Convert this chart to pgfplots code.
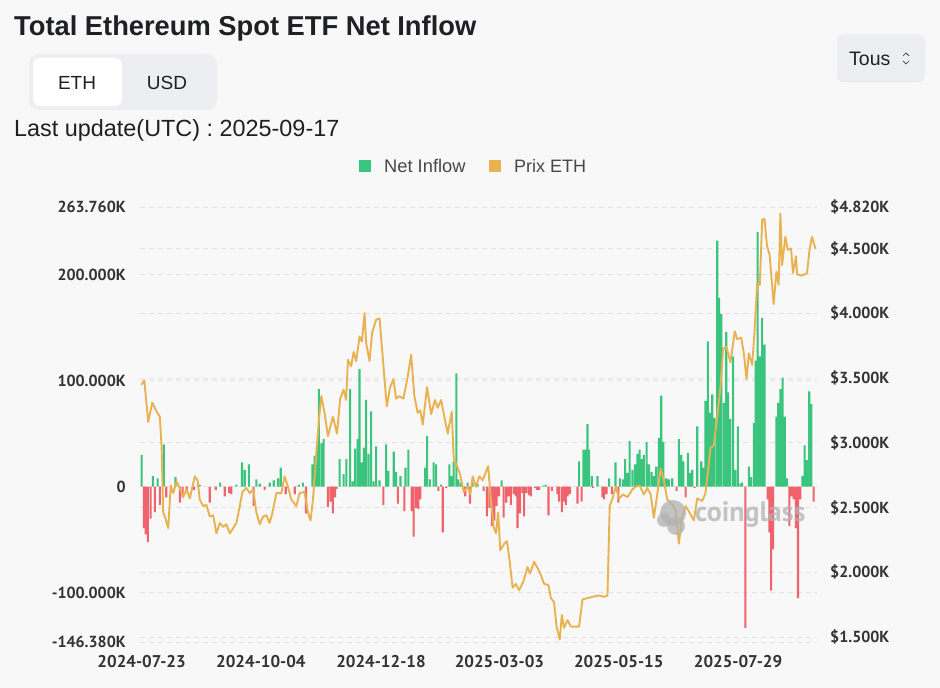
\documentclass[border=0pt]{standalone}
\usepackage{fontspec}
\setmainfont{Liberation Sans}
\newfontfamily\tickfont{PT Sans}
\usepackage{pgfplots}
\pgfplotsset{compat=1.18}
\definecolor{bgcol}{RGB}{248,248,248}
\definecolor{upcol}{RGB}{58,196,125}
\definecolor{downcol}{RGB}{240,98,108}
\definecolor{pricecol}{RGB}{232,178,80}
\definecolor{gridcol}{RGB}{226,226,226}
\definecolor{labcol}{RGB}{51,51,51}
\definecolor{btncol}{RGB}{236,238,241}
\definecolor{txtcol}{RGB}{30,32,36}

\begin{document}
\begin{tikzpicture}[x=1pt,y=1pt]
\fill[bgcol] (0,0) rectangle (940,688);

% header
\node[anchor=base west,inner sep=0pt,text=txtcol] at (14,652) {\fontsize{27.3}{27.3}\selectfont\bfseries Total Ethereum Spot ETF Net Inflow};
\fill[btncol, rounded corners=10pt] (29,578) rectangle (217,634);
\fill[white, rounded corners=7pt] (33,582) rectangle (122,630);
\node[anchor=base,inner sep=0pt,text=txtcol] at (77,598) {\fontsize{19}{19}\selectfont ETH};
\node[anchor=base,inner sep=0pt,text=txtcol] at (167,598) {\fontsize{19}{19}\selectfont USD};
\fill[black!10, rounded corners=7pt] (837,606) rectangle (924.5,653);
\fill[btncol, rounded corners=7pt] (837,607) rectangle (924,654);
\node[anchor=base west,inner sep=0pt,text=txtcol] at (849,622) {\fontsize{19.5}{19.5}\selectfont Tous};
\draw[labcol, line width=0.7pt] (903,632) -- (906,635) -- (909,632);
\draw[labcol, line width=0.7pt] (903,627) -- (906,624) -- (909,627);
\node[anchor=base west,inner sep=0pt,text=txtcol] at (14,551) {\fontsize{23.4}{23.4}\selectfont Last update(UTC) : 2025-09-17};

% legend
\fill[upcol] (359,516) rectangle (371,528);
\node[anchor=west,inner sep=0pt,text=black!72] at (384,522) {\fontsize{18.3}{18.3}\selectfont Net Inflow};
\fill[pricecol] (489,516) rectangle (501,528);
\node[anchor=west,inner sep=0pt,text=black!72] at (514,522) {\fontsize{18}{18}\selectfont Prix ETH};

\begin{axis}[
    at={(140pt,46pt)}, anchor=south west,
    scale only axis, width=677pt, height=435pt,
    xmin=-1, xmax=419,
    ymin=-146.38, ymax=263.76,
    axis line style={draw=none},
    major tick length=0pt,
    xtick={0,74,148.5,222,296,370},
    xticklabels={2024-07-23,2024-10-04,2024-12-18,2025-03-03,2025-05-15,2025-07-29},
    ytick={-146.38,-100,0,100,200,263.76},
    yticklabels={-146.380K,-100.000K,0,100.000K,200.000K,263.760K},
    extra y ticks={-141.62,-80.57,-19.52,41.53,102.58,163.63,224.69},
    extra y tick labels={},
    extra y tick style={grid=major},
    ymajorgrids,
    grid style={gridcol, dash pattern=on 5pt off 4pt, line width=0.7pt},
    ticklabel style={font=\tickfont\fontsize{16}{16}\selectfont\bfseries, text=labcol, inner sep=0pt},
    yticklabel style={anchor=east, xshift=-14pt},
    xticklabel style={anchor=north, yshift=-13pt, font=\tickfont\fontsize{17}{17}\selectfont\bfseries},
]
\addplot[ybar, bar width=1.3, bar shift=0pt, fill=upcol, draw=none] coordinates {
(0,30)(7,10)(9.9,8)(13.8,40)(21,9)(36,2)(48.7,4)(58.8,2)(62.3,23)(64,16)(66.5,21)(71.2,7)(73.3,3)
(79.5,4)(82,6)(84.6,8)(86.3,18)(97.6,2)(100,4)(106,21)(107.3,29)(108.8,38)(110,92)(111.5,41)(112.9,45)
(122.8,26)(125.3,12)(127,26)(129.4,92)(131,5)(132.5,36)(134,45)(135.2,111)(136.6,23)(137.9,37)(139.3,82)
(140.8,31)(142.4,71)(143.9,5)(145.5,38)(147.6,6)(151.7,40)(153.1,15)(156.4,33)(157.9,14)(160.6,10)
(163.7,18)(165.5,35)(175.9,18)(177.1,48)(178.8,7)(181.2,23)(182.7,21)(185.8,2)(190.9,21)(192.4,10)
(193.6,24)(195.3,107)(196.5,7)(198.1,4)(202.3,4)(205.4,4)(208.5,3)(223.3,6)(249,1)(250.6,2)
(271.4,24)(274.1,35)(275.5,35)(276.6,59)(277.6,35)(279.3,10)(282.8,10)(290,8)(294,23)(296.8,8)
(298.7,7)(300,26)(301.4,13)(302.8,43)(304.5,16)(306.1,21)(307.6,31)(309,35)(310.2,26)(311.6,30)
(313.3,42)(314.8,21)(316.4,14)(317.8,10)(319.3,19)(320.9,46)(322.4,86)(323.6,42)(325.5,8)(327,7)
(329.2,8)(333.3,45)(334.8,30)(336,24)(338.9,32)(340.1,13)(341.6,16)(344.7,57)(347.2,24)(348.4,18)
(349.8,81)(351.3,137)(352.5,70)(354,87)(355.4,65)(357.1,232)(358.3,178)(359.6,163)(361.2,79)
(362.7,146)(363.9,89)(365.3,64)(367,123)(368.4,16)(369.9,57)(371.5,3)(372.5,4)(376.7,19)(378.1,9)
(379.8,60)(381,119)(382.2,240)(383.5,123)(385,159)(386.4,134)(393.8,66)(394.9,79)(396.3,92)
(397.7,103)(399,66)(400.4,8)(410,10)(411.3,39)(412.8,25)(414.2,90)(415.5,78)
};
\addplot[ybar, bar width=1.3, bar shift=0pt, fill=downcol, draw=none] coordinates {
(1.4,-39)(2.5,-45)(3.9,-52)(5.6,-30)(8.2,-24)(11.3,-17)(15.3,-10)(23.7,-15)(25.4,-10)(28,-4)
(32.6,-3)(42.3,-15)(46,-3)(51.6,-9)(54.3,-6)(55.7,-7)(69.5,-18)(76.3,-3)(89.4,-7)(95,-7)(102,-25)
(115.6,-19)(117.2,-14)(118.7,-25)(120,-10)(121,-2)(150,-17)(159,-16)(163,-23)(167.6,-23)(168.8,-47)
(170.3,-20)(171.7,-21)(172.9,-12)(184.1,-4)(186.8,-43)(189,-1)(200.8,-9)(203.7,-16)(212.2,-4)
(214.2,-28)(215.7,-20)(217.3,-37)(218.8,-32)(220.2,-18)(221.7,-9)(224.6,-29)(226.2,-15)(227.7,-9)
(229.1,-17)(230.8,-7)(232.2,-9)(233.2,-39)(234.7,-25)(236.3,-6)(237.3,-28)(238.8,-6)(240.4,-8)
(241.5,-9)(244,-1)(245.2,-3)(246.6,-3)(252.4,-27)(254.5,-4)(258,-7)(259,-14)(260.7,-24)(262.1,-14)
(263.2,-17)(264.2,-9)(265.6,-7)(270.4,-16)(273,-14)(280,-1)(285.9,-10)(286.9,-12)(288.4,-7)
(291.7,-7)(295.8,-15)(331.9,-4)(337.5,-10)(343,-1)(374.6,-133)(388.4,-12)(389.5,-43)(390.5,-98)
(391.8,-59)(401.9,-37)(403.1,-9)(404.5,-12)(406,-39)(407.2,-105)(408.7,-12)(416.9,-14)
};
\end{axis}

\begin{axis}[
    at={(140pt,46pt)}, anchor=south west,
    scale only axis, width=677pt, height=435pt,
    xmin=-1, xmax=419,
    ymin=1.461, ymax=4.82,
    axis line style={draw=none},
    major tick length=0pt,
    xtick=\empty,
    axis y line*=right,
    ytick={1.5,2,2.5,3,3.5,4,4.5,4.82},
    yticklabels={\$1.500K,\$2.000K,\$2.500K,\$3.000K,\$3.500K,\$4.000K,\$4.500K,\$4.820K},
    ticklabel style={font=\tickfont\fontsize{16}{16}\selectfont\bfseries, text=labcol, inner sep=0pt},
    yticklabel style={anchor=west, xshift=13pt},
]
\addplot[pricecol, line width=1.9pt, line join=round, line cap=round] coordinates {
(0,3.45)(1.7,3.48)(4.1,3.16)(6.6,3.31)(9.3,3.24)(11.3,3.20)(12.4,2.97)(13.4,2.46)(14.4,2.43)(16.5,2.34)
(18.1,2.67)(19.6,2.61)(21.7,2.70)(23.7,2.65)(25.8,2.58)(27.9,2.64)(29.9,2.57)(33,2.74)(34.7,2.71)
(36.1,2.56)(38.2,2.51)(40.2,2.52)(42.3,2.43)(44.4,2.44)(46.4,2.30)(48.5,2.38)(50.6,2.35)(52.6,2.37)
(54.7,2.30)(56.8,2.34)(58.8,2.38)(60.9,2.51)(62.5,2.62)(65,2.65)(67.1,2.61)(69.2,2.64)(71.2,2.46)
(73.3,2.37)(75.4,2.43)(77.4,2.44)(79.4,2.38)(81,2.45)(83.6,2.61)(86.7,2.61)(88.7,2.74)(90.8,2.66)
(92.9,2.56)(96,2.51)(98,2.61)(101.1,2.62)(103.2,2.46)(104.8,2.40)(106.3,2.56)(108.4,2.92)(110.4,3.23)
(111.5,3.36)(113.5,3.23)(115.6,3.05)(118.7,3.20)(121.2,3.07)(123.2,3.34)(125.3,3.41)(126.9,3.33)
(128,3.64)(130,3.59)(131.5,3.70)(133.1,3.63)(135.2,3.82)(136.7,3.78)(138.3,4.00)(139.3,3.77)
(141.4,3.63)(143,3.85)(145.5,3.95)(147.6,3.96)(149.2,3.72)(150.7,3.49)(152.1,3.28)(154.2,3.43)
(156.2,3.49)(157.9,3.34)(159.9,3.36)(162.4,3.34)(165.1,3.51)(167.2,3.68)(169.2,3.36)(171.3,3.23)
(172.9,3.25)(174.4,3.14)(177.1,3.43)(179.6,3.22)(182,3.33)(183.7,3.27)(185.8,3.33)(187.8,3.20)
(189.9,3.07)(192.4,3.24)(193.6,2.88)(195.7,2.82)(197.7,2.75)(199.8,2.62)(202.3,2.66)(203.9,2.60)
(205.4,2.74)(207.4,2.66)(209.5,2.74)(211.6,2.71)(215,2.82)(216.7,2.56)(218.4,2.35)(219.8,2.30)
(221.2,2.46)(222.5,2.17)(225,2.22)(226.6,2.24)(228,2.12)(230.2,1.88)(232.2,1.91)(234.2,1.86)
(236.9,1.93)(239.4,2.04)(241,1.99)(243.5,2.08)(247,2.00)(249.7,1.91)(252.4,1.90)(253.9,1.80)
(255.9,1.77)(257.4,1.58)(259.4,1.48)(260.7,1.67)(262.1,1.57)(264.2,1.63)(266.3,1.58)(271.4,1.58)
(273.5,1.79)(276.6,1.80)(279.7,1.81)(283.8,1.82)(286.9,1.81)(289,1.82)(290.4,2.51)(292.4,2.58)
(294.1,2.66)(296.2,2.57)(298.6,2.60)(301.4,2.58)(304.5,2.64)(306.5,2.66)(309,2.67)(311.6,2.60)
(313.7,2.65)(315.8,2.60)(317.8,2.42)(319.9,2.60)(322,2.80)(324,2.71)(326.1,2.56)(328.2,2.54)
(331.3,2.48)(333.3,2.22)(335.4,2.43)(337.5,2.51)(339.5,2.47)(342.6,2.40)(344.7,2.57)(347.8,2.55)
(349.8,2.61)(351.3,2.77)(352.9,2.96)(355,2.98)(357.1,3.20)(359.1,3.43)(360.8,3.73)(362.8,3.74)
(365.3,3.62)(368,3.86)(369.5,3.80)(372,3.81)(373.6,3.69)(375.3,3.49)(376.7,3.69)(378.8,3.60)
(380.2,3.85)(381.9,4.23)(383.5,4.22)(385,4.72)(386.4,4.73)(388,4.52)(389.6,4.45)(392.1,4.07)
(393.8,4.32)(395.2,4.22)(396.3,4.77)(397.3,4.37)(399.4,4.59)(400.8,4.49)(402.9,4.50)(404.1,4.31)
(406,4.44)(406.6,4.30)(409.7,4.29)(412.8,4.31)(414.4,4.49)(415.9,4.59)(418,4.50)
};
\end{axis}

% watermark
\begin{scope}[opacity=0.75]
\fill[black!30] (673,175) circle[radius=13];
\fill[black!30] (664,168) circle[radius=7];
\fill[black!30] (676,162) circle[radius=9];
\node[anchor=west,inner sep=0pt,text=black!30] at (695,173) {\tickfont\fontsize{28}{28}\selectfont\bfseries coinglass};
\end{scope}
\end{tikzpicture}
\end{document}
